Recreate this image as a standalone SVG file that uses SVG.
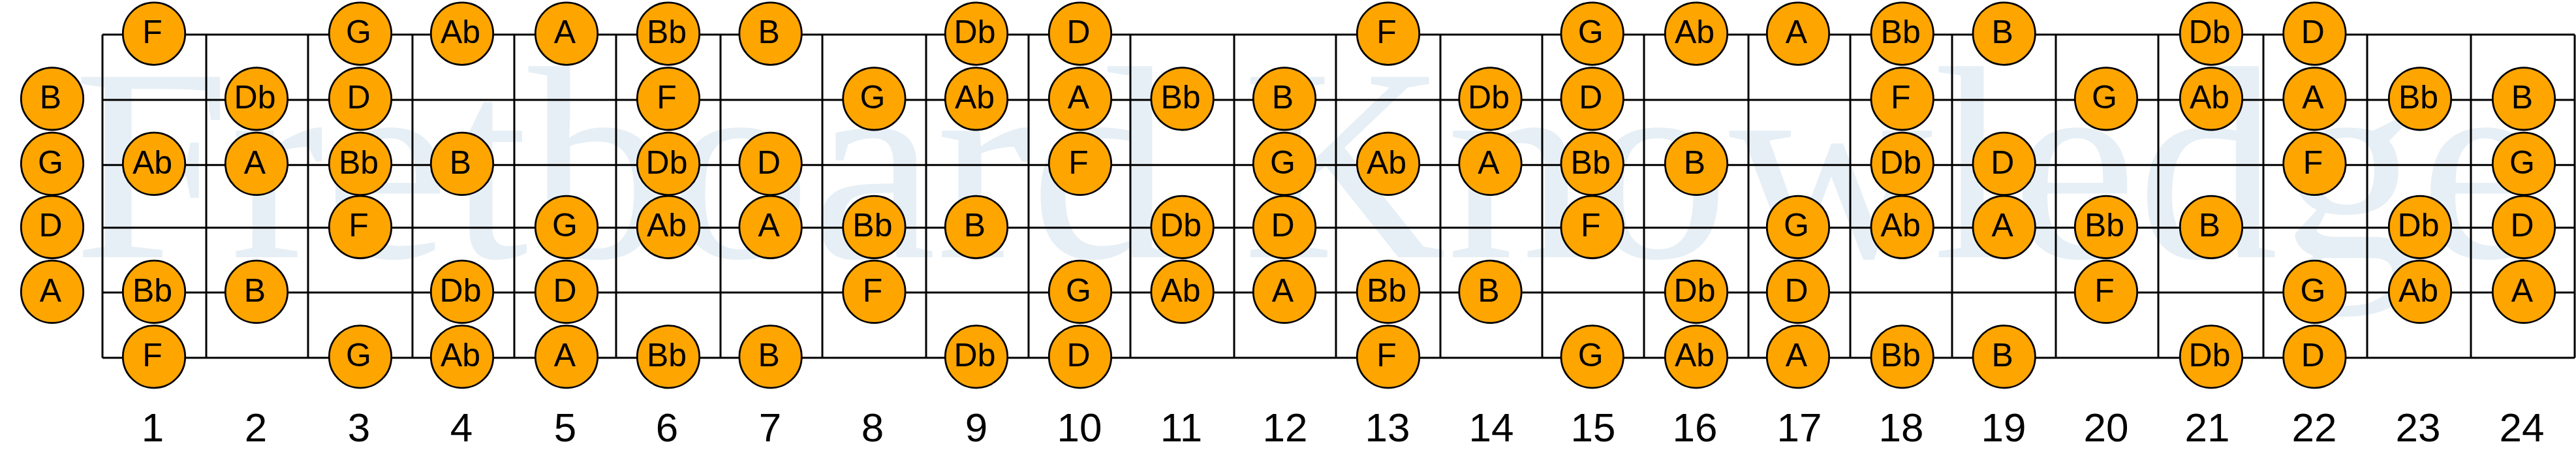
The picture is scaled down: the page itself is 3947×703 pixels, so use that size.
<svg xmlns="http://www.w3.org/2000/svg" width="3947" height="703" viewBox="0 0 3947 703">
<style>
text{font-family:"Liberation Sans",Arial,sans-serif;fill:#000}
#watermark text{font-family:"Liberation Serif","Times New Roman",serif;font-size:422px;fill:#e6eff5}
#connectors path{fill:none;stroke:#000;stroke-width:3}
.n circle{fill:#ffa500;stroke:#000;stroke-width:2.8}
.n text{font-size:50px;text-anchor:middle}
.f{font-size:62px;text-anchor:middle}
</style>
<rect width="3947" height="703" fill="#fff"/>
<g id="watermark"><text transform="translate(112,394) scale(1.026,1)">Fretboard Knowledge</text></g>
<g id="connectors">
<path d="M157 53H3945M157 153H3945M157 252.7H3945M157 348.7H3945M157 448H3945M157 548H3945"/>
<path d="M157 53V548M316 53V548M472 53V548M632 53V548M788 53V548M944 53V548M1104 53V548M1260 53V548M1419 53V548M1576 53V548M1732 53V548M1891 53V548M2047 53V548M2207 53V548M2363 53V548M2519 53V548M2679 53V548M2835 53V548M2991 53V548M3150 53V548M3307 53V548M3468 53V548M3627 53V548M3786 53V548M3945 53V548"/>
</g>
<g id="nodes">
<g class="n" id="f0s1" transform="translate(80,151.3)"><circle r="47.7"/><text x="-2.5" y="14.6">B</text></g>
<g class="n" id="f0s2" transform="translate(80,250.9)"><circle r="47.7"/><text x="-2.5" y="14.6">G</text></g>
<g class="n" id="f0s3" transform="translate(80,347.8)"><circle r="47.7"/><text x="-2.5" y="14.6">D</text></g>
<g class="n" id="f0s4" transform="translate(80,446.9)"><circle r="47.7"/><text x="-2.5" y="14.6">A</text></g>
<g class="n" id="f1s0" transform="translate(236,51.6)"><circle r="47.7"/><text x="-2.5" y="14.6">F</text></g>
<g class="n" id="f1s2" transform="translate(236,250.9)"><circle r="47.7"/><text x="-2.5" y="14.6">Ab</text></g>
<g class="n" id="f1s4" transform="translate(236,446.9)"><circle r="47.7"/><text x="-2.5" y="14.6">Bb</text></g>
<g class="n" id="f1s5" transform="translate(236,546.4)"><circle r="47.7"/><text x="-2.5" y="14.6">F</text></g>
<g class="n" id="f2s1" transform="translate(393,151.3)"><circle r="47.7"/><text x="-2.5" y="14.6">Db</text></g>
<g class="n" id="f2s2" transform="translate(393,250.9)"><circle r="47.7"/><text x="-2.5" y="14.6">A</text></g>
<g class="n" id="f2s4" transform="translate(393,446.9)"><circle r="47.7"/><text x="-2.5" y="14.6">B</text></g>
<g class="n" id="f3s0" transform="translate(552,51.6)"><circle r="47.7"/><text x="-2.5" y="14.6">G</text></g>
<g class="n" id="f3s1" transform="translate(552,151.3)"><circle r="47.7"/><text x="-2.5" y="14.6">D</text></g>
<g class="n" id="f3s2" transform="translate(552,250.9)"><circle r="47.7"/><text x="-2.5" y="14.6">Bb</text></g>
<g class="n" id="f3s3" transform="translate(552,347.8)"><circle r="47.7"/><text x="-2.5" y="14.6">F</text></g>
<g class="n" id="f3s5" transform="translate(552,546.4)"><circle r="47.7"/><text x="-2.5" y="14.6">G</text></g>
<g class="n" id="f4s0" transform="translate(708,51.6)"><circle r="47.7"/><text x="-2.5" y="14.6">Ab</text></g>
<g class="n" id="f4s2" transform="translate(708,250.9)"><circle r="47.7"/><text x="-2.5" y="14.6">B</text></g>
<g class="n" id="f4s4" transform="translate(708,446.9)"><circle r="47.7"/><text x="-2.5" y="14.6">Db</text></g>
<g class="n" id="f4s5" transform="translate(708,546.4)"><circle r="47.7"/><text x="-2.5" y="14.6">Ab</text></g>
<g class="n" id="f5s0" transform="translate(868,51.6)"><circle r="47.7"/><text x="-2.5" y="14.6">A</text></g>
<g class="n" id="f5s3" transform="translate(868,347.8)"><circle r="47.7"/><text x="-2.5" y="14.6">G</text></g>
<g class="n" id="f5s4" transform="translate(868,446.9)"><circle r="47.7"/><text x="-2.5" y="14.6">D</text></g>
<g class="n" id="f5s5" transform="translate(868,546.4)"><circle r="47.7"/><text x="-2.5" y="14.6">A</text></g>
<g class="n" id="f6s0" transform="translate(1024,51.6)"><circle r="47.7"/><text x="-2.5" y="14.6">Bb</text></g>
<g class="n" id="f6s1" transform="translate(1024,151.3)"><circle r="47.7"/><text x="-2.5" y="14.6">F</text></g>
<g class="n" id="f6s2" transform="translate(1024,250.9)"><circle r="47.7"/><text x="-2.5" y="14.6">Db</text></g>
<g class="n" id="f6s3" transform="translate(1024,347.8)"><circle r="47.7"/><text x="-2.5" y="14.6">Ab</text></g>
<g class="n" id="f6s5" transform="translate(1024,546.4)"><circle r="47.7"/><text x="-2.5" y="14.6">Bb</text></g>
<g class="n" id="f7s0" transform="translate(1180.6,51.6)"><circle r="47.7"/><text x="-2.5" y="14.6">B</text></g>
<g class="n" id="f7s2" transform="translate(1180.6,250.9)"><circle r="47.7"/><text x="-2.5" y="14.6">D</text></g>
<g class="n" id="f7s3" transform="translate(1180.6,347.8)"><circle r="47.7"/><text x="-2.5" y="14.6">A</text></g>
<g class="n" id="f7s5" transform="translate(1180.6,546.4)"><circle r="47.7"/><text x="-2.5" y="14.6">B</text></g>
<g class="n" id="f8s1" transform="translate(1339.4,151.3)"><circle r="47.7"/><text x="-2.5" y="14.6">G</text></g>
<g class="n" id="f8s3" transform="translate(1339.4,347.8)"><circle r="47.7"/><text x="-2.5" y="14.6">Bb</text></g>
<g class="n" id="f8s4" transform="translate(1339.4,446.9)"><circle r="47.7"/><text x="-2.5" y="14.6">F</text></g>
<g class="n" id="f9s0" transform="translate(1496,51.6)"><circle r="47.7"/><text x="-2.5" y="14.6">Db</text></g>
<g class="n" id="f9s1" transform="translate(1496,151.3)"><circle r="47.7"/><text x="-2.5" y="14.6">Ab</text></g>
<g class="n" id="f9s3" transform="translate(1496,347.8)"><circle r="47.7"/><text x="-2.5" y="14.6">B</text></g>
<g class="n" id="f9s5" transform="translate(1496,546.4)"><circle r="47.7"/><text x="-2.5" y="14.6">Db</text></g>
<g class="n" id="f10s0" transform="translate(1655,51.6)"><circle r="47.7"/><text x="-2.5" y="14.6">D</text></g>
<g class="n" id="f10s1" transform="translate(1655,151.3)"><circle r="47.7"/><text x="-2.5" y="14.6">A</text></g>
<g class="n" id="f10s2" transform="translate(1655,250.9)"><circle r="47.7"/><text x="-2.5" y="14.6">F</text></g>
<g class="n" id="f10s4" transform="translate(1655,446.9)"><circle r="47.7"/><text x="-2.5" y="14.6">G</text></g>
<g class="n" id="f10s5" transform="translate(1655,546.4)"><circle r="47.7"/><text x="-2.5" y="14.6">D</text></g>
<g class="n" id="f11s1" transform="translate(1811.6,151.3)"><circle r="47.7"/><text x="-2.5" y="14.6">Bb</text></g>
<g class="n" id="f11s3" transform="translate(1811.6,347.8)"><circle r="47.7"/><text x="-2.5" y="14.6">Db</text></g>
<g class="n" id="f11s4" transform="translate(1811.6,446.9)"><circle r="47.7"/><text x="-2.5" y="14.6">Ab</text></g>
<g class="n" id="f12s1" transform="translate(1968,151.3)"><circle r="47.7"/><text x="-2.5" y="14.6">B</text></g>
<g class="n" id="f12s2" transform="translate(1968,250.9)"><circle r="47.7"/><text x="-2.5" y="14.6">G</text></g>
<g class="n" id="f12s3" transform="translate(1968,347.8)"><circle r="47.7"/><text x="-2.5" y="14.6">D</text></g>
<g class="n" id="f12s4" transform="translate(1968,446.9)"><circle r="47.7"/><text x="-2.5" y="14.6">A</text></g>
<g class="n" id="f13s0" transform="translate(2127,51.6)"><circle r="47.7"/><text x="-2.5" y="14.6">F</text></g>
<g class="n" id="f13s2" transform="translate(2127,250.9)"><circle r="47.7"/><text x="-2.5" y="14.6">Ab</text></g>
<g class="n" id="f13s4" transform="translate(2127,446.9)"><circle r="47.7"/><text x="-2.5" y="14.6">Bb</text></g>
<g class="n" id="f13s5" transform="translate(2127,546.4)"><circle r="47.7"/><text x="-2.5" y="14.6">F</text></g>
<g class="n" id="f14s1" transform="translate(2283.5,151.3)"><circle r="47.7"/><text x="-2.5" y="14.6">Db</text></g>
<g class="n" id="f14s2" transform="translate(2283.5,250.9)"><circle r="47.7"/><text x="-2.5" y="14.6">A</text></g>
<g class="n" id="f14s4" transform="translate(2283.5,446.9)"><circle r="47.7"/><text x="-2.5" y="14.6">B</text></g>
<g class="n" id="f15s0" transform="translate(2439.7,51.6)"><circle r="47.7"/><text x="-2.5" y="14.6">G</text></g>
<g class="n" id="f15s1" transform="translate(2439.7,151.3)"><circle r="47.7"/><text x="-2.5" y="14.6">D</text></g>
<g class="n" id="f15s2" transform="translate(2439.7,250.9)"><circle r="47.7"/><text x="-2.5" y="14.6">Bb</text></g>
<g class="n" id="f15s3" transform="translate(2439.7,347.8)"><circle r="47.7"/><text x="-2.5" y="14.6">F</text></g>
<g class="n" id="f15s5" transform="translate(2439.7,546.4)"><circle r="47.7"/><text x="-2.5" y="14.6">G</text></g>
<g class="n" id="f16s0" transform="translate(2599,51.6)"><circle r="47.7"/><text x="-2.5" y="14.6">Ab</text></g>
<g class="n" id="f16s2" transform="translate(2599,250.9)"><circle r="47.7"/><text x="-2.5" y="14.6">B</text></g>
<g class="n" id="f16s4" transform="translate(2599,446.9)"><circle r="47.7"/><text x="-2.5" y="14.6">Db</text></g>
<g class="n" id="f16s5" transform="translate(2599,546.4)"><circle r="47.7"/><text x="-2.5" y="14.6">Ab</text></g>
<g class="n" id="f17s0" transform="translate(2755,51.6)"><circle r="47.7"/><text x="-2.5" y="14.6">A</text></g>
<g class="n" id="f17s3" transform="translate(2755,347.8)"><circle r="47.7"/><text x="-2.5" y="14.6">G</text></g>
<g class="n" id="f17s4" transform="translate(2755,446.9)"><circle r="47.7"/><text x="-2.5" y="14.6">D</text></g>
<g class="n" id="f17s5" transform="translate(2755,546.4)"><circle r="47.7"/><text x="-2.5" y="14.6">A</text></g>
<g class="n" id="f18s0" transform="translate(2914.7,51.6)"><circle r="47.7"/><text x="-2.5" y="14.6">Bb</text></g>
<g class="n" id="f18s1" transform="translate(2914.7,151.3)"><circle r="47.7"/><text x="-2.5" y="14.6">F</text></g>
<g class="n" id="f18s2" transform="translate(2914.7,250.9)"><circle r="47.7"/><text x="-2.5" y="14.6">Db</text></g>
<g class="n" id="f18s3" transform="translate(2914.7,347.8)"><circle r="47.7"/><text x="-2.5" y="14.6">Ab</text></g>
<g class="n" id="f18s5" transform="translate(2914.7,546.4)"><circle r="47.7"/><text x="-2.5" y="14.6">Bb</text></g>
<g class="n" id="f19s0" transform="translate(3070.7,51.6)"><circle r="47.7"/><text x="-2.5" y="14.6">B</text></g>
<g class="n" id="f19s2" transform="translate(3070.7,250.9)"><circle r="47.7"/><text x="-2.5" y="14.6">D</text></g>
<g class="n" id="f19s3" transform="translate(3070.7,347.8)"><circle r="47.7"/><text x="-2.5" y="14.6">A</text></g>
<g class="n" id="f19s5" transform="translate(3070.7,546.4)"><circle r="47.7"/><text x="-2.5" y="14.6">B</text></g>
<g class="n" id="f20s1" transform="translate(3227,151.3)"><circle r="47.7"/><text x="-2.5" y="14.6">G</text></g>
<g class="n" id="f20s3" transform="translate(3227,347.8)"><circle r="47.7"/><text x="-2.5" y="14.6">Bb</text></g>
<g class="n" id="f20s4" transform="translate(3227,446.9)"><circle r="47.7"/><text x="-2.5" y="14.6">F</text></g>
<g class="n" id="f21s0" transform="translate(3388,51.6)"><circle r="47.7"/><text x="-2.5" y="14.6">Db</text></g>
<g class="n" id="f21s1" transform="translate(3388,151.3)"><circle r="47.7"/><text x="-2.5" y="14.6">Ab</text></g>
<g class="n" id="f21s3" transform="translate(3388,347.8)"><circle r="47.7"/><text x="-2.5" y="14.6">B</text></g>
<g class="n" id="f21s5" transform="translate(3388,546.4)"><circle r="47.7"/><text x="-2.5" y="14.6">Db</text></g>
<g class="n" id="f22s0" transform="translate(3546.4,51.6)"><circle r="47.7"/><text x="-2.5" y="14.6">D</text></g>
<g class="n" id="f22s1" transform="translate(3546.4,151.3)"><circle r="47.7"/><text x="-2.5" y="14.6">A</text></g>
<g class="n" id="f22s2" transform="translate(3546.4,250.9)"><circle r="47.7"/><text x="-2.5" y="14.6">F</text></g>
<g class="n" id="f22s4" transform="translate(3546.4,446.9)"><circle r="47.7"/><text x="-2.5" y="14.6">G</text></g>
<g class="n" id="f22s5" transform="translate(3546.4,546.4)"><circle r="47.7"/><text x="-2.5" y="14.6">D</text></g>
<g class="n" id="f23s1" transform="translate(3708,151.3)"><circle r="47.7"/><text x="-2.5" y="14.6">Bb</text></g>
<g class="n" id="f23s3" transform="translate(3708,347.8)"><circle r="47.7"/><text x="-2.5" y="14.6">Db</text></g>
<g class="n" id="f23s4" transform="translate(3708,446.9)"><circle r="47.7"/><text x="-2.5" y="14.6">Ab</text></g>
<g class="n" id="f24s1" transform="translate(3867,151.3)"><circle r="47.7"/><text x="-2.5" y="14.6">B</text></g>
<g class="n" id="f24s2" transform="translate(3867,250.9)"><circle r="47.7"/><text x="-2.5" y="14.6">G</text></g>
<g class="n" id="f24s3" transform="translate(3867,347.8)"><circle r="47.7"/><text x="-2.5" y="14.6">D</text></g>
<g class="n" id="f24s4" transform="translate(3867,446.9)"><circle r="47.7"/><text x="-2.5" y="14.6">A</text></g>
</g>
<g id="fret-numbers">
<text class="f" x="234" y="675.5">1</text>
<text class="f" x="392" y="675.5">2</text>
<text class="f" x="550" y="675.5">3</text>
<text class="f" x="707" y="675.5">4</text>
<text class="f" x="866" y="675.5">5</text>
<text class="f" x="1022" y="675.5">6</text>
<text class="f" x="1180" y="675.5">7</text>
<text class="f" x="1337" y="675.5">8</text>
<text class="f" x="1496" y="675.5">9</text>
<text class="f" x="1654" y="675.5">10</text>
<text class="f" x="1810" y="675.5">11</text>
<text class="f" x="1969" y="675.5">12</text>
<text class="f" x="2126" y="675.5">13</text>
<text class="f" x="2285" y="675.5">14</text>
<text class="f" x="2441" y="675.5">15</text>
<text class="f" x="2597" y="675.5">16</text>
<text class="f" x="2757" y="675.5">17</text>
<text class="f" x="2913" y="675.5">18</text>
<text class="f" x="3070" y="675.5">19</text>
<text class="f" x="3227" y="675.5">20</text>
<text class="f" x="3382" y="675.5">21</text>
<text class="f" x="3546" y="675.5">22</text>
<text class="f" x="3705" y="675.5">23</text>
<text class="f" x="3864" y="675.5">24</text>
</g>
</svg>
